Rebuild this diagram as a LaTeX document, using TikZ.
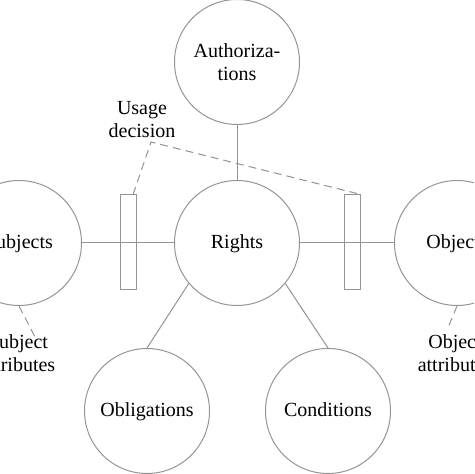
\documentclass[tikz,border=0pt]{standalone}
\usepackage{fontspec}
\setmainfont{Liberation Serif}
\usepackage{tikz}

\begin{document}
\begin{tikzpicture}[x=0.5pt,y=0.5pt,
 every node/.style={font=\fontsize{10}{11.5}\selectfont,align=center},
 ent/.style={circle,draw=black!42,line width=0.5pt,minimum size=\d,inner sep=0pt},
 word/.style={ent,text height=1.6ex,text depth=0.3ex},
 gate/.style={rectangle,draw=black!42,line width=0.5pt,minimum width=8pt,minimum height=47.5pt,inner sep=0pt},
 link/.style={draw=black!42,line width=0.5pt},
 hint/.style={draw=black!42,line width=0.5pt,dash pattern=on 4pt off 2.5pt}]

\def\d{62.5pt} \def\ya{412} \def\yb{231} \def\yc{63}
\clip (0,0) rectangle (474,474);

% circles
\node[ent] (auth) at (237,\ya) {Authoriza-\\tions};
\node[word] (rights) at (237,\yb) {Rights};
\node[word] (subj) at (19,\yb) {Subjects};
\node[word] (obj) at (457,\yb) {Objects};
\node[word] (obl) at (147,\yc) {Obligations};
\node[word] (cond) at (328,\yc) {Conditions};

% gates
\node[gate] (gl) at (128,231.5) {};
\node[gate] (gr) at (352.5,231.5) {};

% labels
\node (usage) at (142,354.5) {Usage\\decision};
\node (sattr) at (18,120.5) {Subject\\attributes};
\node (oattr) at (455,120.5) {Object\\attributes};
\coordinate (ud) at (151,332);
\coordinate (sa) at (35,137);
\coordinate (oa) at (447,144);

% links
\draw[link] (auth) -- (rights);
\draw[link] (subj) -- (rights);
\draw[link] (rights) -- (obj);
\draw[link] (rights.220) -- (obl.north);
\draw[link] (rights.320) -- (cond.north);

% dashed
\draw[hint] (gl.84) -- (ud) -- (gr.north east);
\draw[hint] (subj.south) -- (sa);
\draw[hint] (obj.south) -- (oa);

\end{tikzpicture}
\end{document}
